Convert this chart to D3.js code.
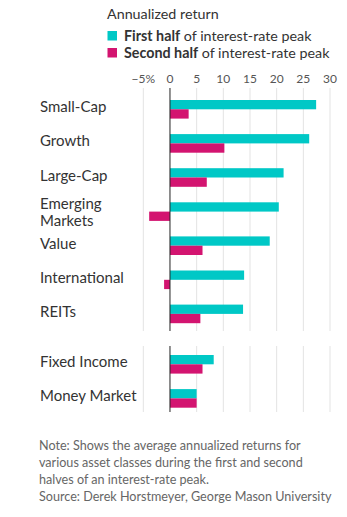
<!DOCTYPE html>
<html><head><meta charset="utf-8">
<script src="https://cdn.jsdelivr.net/npm/d3@7"></script>
<style>
body{margin:0;background:#fff;}
svg{display:block;font-family:Lato, "Open Sans", sans-serif;}
</style></head>
<body><svg id="c" width="347" height="517"></svg>
<script>
const categories1 = ["Small-Cap","Growth","Large-Cap","Emerging Markets","Value","International","REITs"];
const first1 = [27.4, 26.1, 21.3, 20.4, 18.7, 13.9, 13.7];
const second1 = [3.5, 10.2, 6.9, -3.9, 6.1, -1.1, 5.7];
const categories2 = ["Fixed Income","Money Market"];
const first2 = [8.2, 5.0];
const second2 = [6.1, 5.0];
const tickValues = [-5, 0, 5, 10, 15, 20, 25, 30];
const tickLabels = ["\u22125%", "0", "5", "10", "15", "20", "25", "30"];
const noteLines = [
  "Note: Shows the average annualized returns for",
  "various asset classes during the first and second",
  "halves of an interest-rate peak.",
  "Source: Derek Horstmeyer, George Mason University"
];
const TEAL = "#00c8c6", MAG = "#d31470";

const svg = d3.select("#c");
const x = d3.scaleLinear().domain([-5, 30]).range([143.3, 330]);

// Legend
svg.append("text").attr("x", 107).attr("y", 19).attr("font-size", 14.3).attr("fill", "#333").text("Annualized return");
const leg = [{b:"First half", r:" of interest-rate peak", c:TEAL},{b:"Second half", r:" of interest-rate peak", c:MAG}];
leg.forEach((d,i)=>{
  const y = 31 + i*17;
  svg.append("rect").attr("x",107.5).attr("y",y).attr("width",9.5).attr("height",9.5).attr("fill",d.c);
  const t = svg.append("text").attr("x",124).attr("y",y+9.5).attr("font-size",14.3).attr("fill","#333");
  t.append("tspan").attr("font-weight","bold").text(d.b);
  t.append("tspan").text(d.r);
});

// Tick labels
svg.append("g").selectAll("text").data(tickValues).join("text")
  .attr("x", d=>x(d)).attr("y", 83).attr("text-anchor","middle")
  .attr("font-size", 12).attr("fill","#555")
  .text((d,i)=>tickLabels[i]);

function panel(cats, f, s, top, bottom, groupTop){
  const g = svg.append("g");
  const y = d3.scaleBand().domain(cats).range([groupTop, groupTop + cats.length*34.1]).paddingInner(0);
  g.selectAll("line.grid").data(tickValues.filter(v=>v!==0)).join("line")
    .attr("x1",d=>x(d)).attr("x2",d=>x(d)).attr("y1",top).attr("y2",bottom)
    .attr("stroke","#e3e3e3").attr("stroke-width",1);
  const h = 9.3;
  cats.forEach((c,i)=>{
    const y0 = y(c);
    g.append("rect").attr("x", x(Math.min(0,f[i]))).attr("y", y0).attr("width", Math.abs(x(f[i])-x(0))).attr("height", h).attr("fill", TEAL);
    g.append("rect").attr("x", x(Math.min(0,s[i]))).attr("y", y0+h).attr("width", Math.abs(x(s[i])-x(0))).attr("height", h).attr("fill", MAG);
    const words = c === "Emerging Markets" ? ["Emerging","Markets"] : [c];
    const t = g.append("text").attr("font-size",15).attr("fill","#333");
    const cy = y0 + h - 2 + 5;
    words.forEach((w,k)=>{
      t.append("tspan").attr("x",40).attr("y", words.length>1 ? (y0+7 + k*17) : cy).text(w);
    });
  });
  g.append("line").attr("x1",x(0)).attr("x2",x(0)).attr("y1",top).attr("y2",bottom).attr("stroke","#222").attr("stroke-width",1);
}
panel(categories1, first1, second1, 88, 331, 100);
panel(categories2, first2, second2, 346, 412, 355);

svg.append("g").selectAll("text").data(noteLines).join("text")
  .attr("x",39).attr("y",(d,i)=>450 + i*17).attr("font-size",12.6).attr("fill","#666").text(d=>d);
</script></body></html>
